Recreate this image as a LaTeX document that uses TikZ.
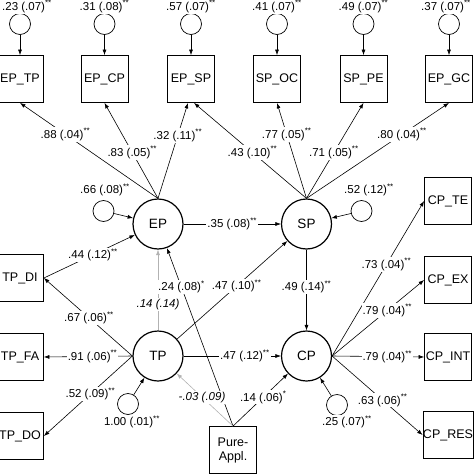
\documentclass[tikz,border=0pt]{standalone}
\usepackage{fontspec}
\setmainfont{Liberation Sans}
\usetikzlibrary{arrows.meta}
\def\dstar{\textsuperscript{**}}
\def\sstar{\textsuperscript{*}}

\begin{document}
\begin{tikzpicture}[x=1pt,y=-1pt,
    >={Latex[length=5.5pt,width=4pt]},
    latent/.style={circle,draw,line width=1.2pt,minimum size=50pt,inner sep=0pt,
      font=\fontsize{13.5}{15}\selectfont},
    indic/.style={rectangle,draw,line width=0.8pt,minimum size=47pt,inner sep=0pt,
      align=center,font=\fontsize{12.5}{14}\selectfont},
    err/.style={circle,draw,line width=0.7pt,minimum size=21pt,inner sep=0pt},
    coef/.style={fill=white,inner sep=1pt,font=\fontsize{11.5}{12}\selectfont},
    lnk/.style={->,line width=0.6pt},
    ns/.style={->,line width=0.6pt,draw=black!30}]
  \useasboundingbox (0,0) rectangle (474,474);

  % indicators on top, with their errors
  \foreach \n/\t/\x/\lx/\e in {eptp/{EP\_TP}/20/27/{.23 (.07)},epcp/{EP\_CP}/104.5/104.5/{.31 (.08)},
      epsp/{EP\_SP}/191/191/{.57 (.07)},spoc/{SP\_OC}/277/277/{.41 (.07)},
      sppe/{SP\_PE}/363.5/363.5/{.49 (.07)},epgc/{EP\_GC}/449/446/{.37 (.07)}}{
    \node[indic] (\n) at (\x,79) {\t};
    \node[err] (e\n) at (\x,24) {};
    \node[coef] at (\lx,6.5) {\e\dstar};
    \draw[lnk] (e\n) -- (\n);
  }

  % latent variables
  \node[latent] (EP) at (158,224) {EP};
  \node[latent] (SP) at (306.5,224) {SP};
  \node[latent] (TP) at (158,356) {TP};
  \node[latent] (CP) at (306.5,356) {CP};

  \node[err] (eEP) at (103.5,211) {};
  \node[err] (eSP) at (361.5,211) {};
  \node[err] (eTP) at (128,404) {};
  \node[err] (eCP) at (337,405) {};
  \node[coef] at (105,190) {.66 (.08)\dstar};
  \node[coef] at (369,190) {.52 (.12)\dstar};
  \node[coef] at (132,422) {1.00 (.01)\dstar};
  \node[coef] at (347,422) {.25 (.07)\dstar};
  \draw[lnk] (eEP) -- (EP);
  \draw[lnk] (eSP) -- (SP);
  \draw[lnk] (eTP) -- (TP);
  \draw[lnk] (eCP) -- (CP);

  % side indicators
  \node[indic] (tpdi) at (20,278) {TP\_DI};
  \node[indic] (tpfa) at (20,357) {TP\_FA};
  \node[indic] (tpdo) at (20,436) {TP\_DO};
  \node[indic] (cpte) at (448,201) {CP\_TE};
  \node[indic] (cpex) at (448,280) {CP\_EX};
  \node[indic] (cpint) at (448,357) {CP\_INT};
  \node[indic] (cpres) at (448,435) {CP\_RES};
  \node[indic] (pa) at (233,450) {Pure-\\Appl.};

  % loadings
  \draw[lnk] (EP.north) -- node[coef,pos=.67] {.88 (.04)\dstar} (eptp.south);
  \draw[lnk] (EP.north) -- node[coef,pos=.48] {.83 (.05)\dstar} (epcp.south);
  \draw[lnk] (EP.north) -- node[coef,pos=.66] {.32 (.11)\dstar} ([xshift=-3pt]epsp.south);
  \draw[lnk] (SP.north) -- node[coef,pos=.48] {.43 (.10)\dstar} ([xshift=3pt]epsp.south);
  \draw[lnk] (SP.north) -- node[coef,pos=.67] {.77 (.05)\dstar} (spoc.south);
  \draw[lnk] (SP.north) -- node[coef,pos=.48] {.71 (.05)\dstar} (sppe.south);
  \draw[lnk] (SP.north) -- node[coef,pos=.67] {.80 (.04)\dstar} (epgc.south);

  \draw[lnk] (TP.west) -- node[coef,pos=.49] {.67 (.06)\dstar} (tpdi.east);
  \draw[lnk] (TP.west) -- node[coef,pos=.45] {.91 (.06)\dstar} (tpfa.east);
  \draw[lnk] (TP.west) -- node[coef,pos=.475] {.52 (.09)\dstar} (tpdo.east);
  \draw[lnk] (tpdi.east) -- node[coef,pos=.54] {.44 (.12)\dstar} (EP);

  \draw[lnk] (CP.east) -- node[coef,pos=.59] {.73 (.04)\dstar} (cpte.west);
  \draw[lnk] (CP.east) -- node[coef,pos=.6] {.79 (.04)\dstar} (cpex.west);
  \draw[lnk] (CP.east) -- node[coef,pos=.6] {.79 (.04)\dstar} (cpint.west);
  \draw[lnk] (CP.east) -- node[coef,pos=.56] {.63 (.06)\dstar} (cpres.west);

  % structural paths
  \draw[lnk] (EP) -- node[coef,pos=.5] {.35 (.08)\dstar} (SP);
  \draw[lnk] (SP) -- node[coef,pos=.46] {.49 (.14)\dstar} (CP);
  \draw[lnk] (TP) -- node[coef,pos=.63] {.47 (.12)\dstar} (CP);
  \draw[lnk] (TP) -- node[coef,pos=.54] {.47 (.10)\dstar} (SP);
  \draw[ns] (TP) -- node[coef,pos=.32] {\itshape .14 (.14)} (EP);
  \draw[lnk] (pa.north) -- node[coef,pos=.78] {.24 (.08)\sstar} (EP);
  \draw[ns] (pa.north) -- node[coef,pos=.55] {\itshape -.03 (.09)} (TP);
  \draw[lnk] (pa.north) -- node[coef,pos=.55] {.14 (.06)\sstar} (CP);
\end{tikzpicture}
\end{document}
